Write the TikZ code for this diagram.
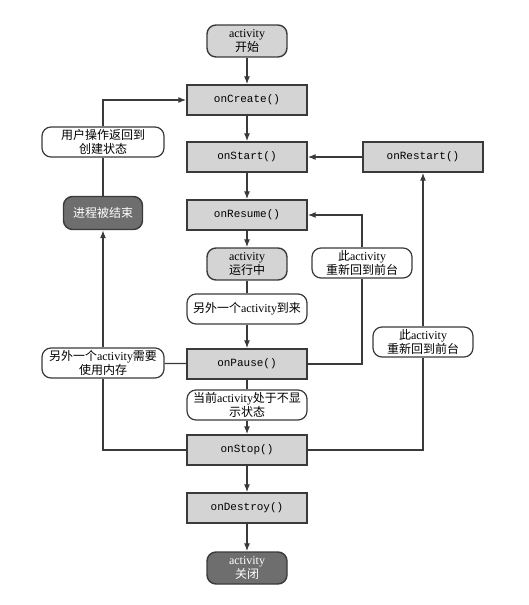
\documentclass[tikz,border=0pt]{standalone}
\usepackage{fontspec}
\setmainfont{Liberation Serif}
\setmonofont{Liberation Mono}
\newfontfamily\zh{Noto Sans CJK SC}
\usetikzlibrary{positioning, arrows.meta}
\definecolor{boxgray}{HTML}{D4D4D4}
\definecolor{darkbox}{HTML}{6E6E6E}
\definecolor{edgegray}{HTML}{3A3A3A}

\begin{document}
\begin{tikzpicture}[x=1pt,y=-1pt,
  method/.style={rectangle,draw=edgegray,line width=1.4pt,fill=boxgray,minimum width=120pt,minimum height=30pt,inner sep=1pt,font=\ttfamily\fontsize{11}{13}\selectfont},
  state/.style={rectangle,rounded corners=9pt,draw=edgegray,line width=1.4pt,fill=boxgray,minimum width=80pt,minimum height=32pt,inner sep=1pt,align=center,font=\fontsize{12}{14}\selectfont},
  ended/.style={state,fill=darkbox,text=white},
  event/.style={rectangle,rounded corners=9pt,draw=edgegray,line width=1.2pt,fill=white,minimum height=30pt,inner sep=1pt,align=center,font=\fontsize{12}{14}\selectfont},
  wire/.style={edgegray,line width=1.2pt},
  flow/.style={wire,-{Latex[length=8pt,width=6pt]}},
  node distance=58pt, on grid]
\useasboundingbox (0,0) rectangle (528,605);
\node (begin) [state] at (247,41) {activity\\{\zh 开始}};
\node (create) [method, below=59pt of begin] {onCreate()};
\node (start) [method, below=57pt of create] {onStart()};
\node (resume) [method, below=of start] {onResume()};
\node (running) [state, below=49pt of resume] {activity\\{\zh 运行中}};
\node (other) [event, minimum width=120pt, below=45pt of running] {{\zh 另外一个}activity{\zh 到来}};
\node (pause) [method, below=55pt of other] {onPause()};
\node (hidden) [event, minimum width=120pt, below=41pt of pause] {{\zh 当前}activity{\zh 处于不显}\\{\zh 示状态}};
\node (stop) [method, below=45pt of hidden] {onStop()};
\node (destroy) [method, below=of stop] {onDestroy()};
\node (close) [ended, below=60pt of destroy] {activity\\{\zh 关闭}};
\node (restart) [method, right=176pt of start] {onRestart()};
\node (back1) [event, minimum width=100pt] at (362,263) {{\zh 此}activity\\{\zh 重新回到前台}};
\node (back2) [event, minimum width=100pt] at (423,342) {{\zh 此}activity\\{\zh 重新回到前台}};
\node (killed) [ended, minimum width=79pt, minimum height=33pt] at (103,213) {{\zh 进程被结束}};
\node (memory) [event, minimum width=122pt] at (103,363) {{\zh 另外一个}activity{\zh 需要}\\{\zh 使用内存}};
\node (recreate) [event, minimum width=122pt] at (103,142) {{\zh 用户操作返回到}\\{\zh 创建状态}};
  \begin{scope}
    \draw [flow] (begin) -- (create);
    \draw [flow] (create) -- (start);
    \draw [flow] (start) -- (resume);
    \draw [flow] (resume) -- (running);
    \draw [wire] (running) -- (other);
    \draw [flow] (other) -- (pause);
    \draw [wire] (pause) -- (hidden);
    \draw [flow] (hidden) -- (stop);
    \draw [flow] (stop) -- (destroy);
    \draw [flow] (destroy) -- (close);
    \draw [flow] (restart) -- (start);
    \draw [wire] (pause.east) -| (back1.south);
    \draw [flow] (back1.north) |- (resume.east);
    \draw [wire] (stop.east) -| (back2.south);
    \draw [flow] (back2.north) -- (back2.north |- restart.south);
    \draw [wire] (pause) -- (memory);
    \draw [wire] (stop.west) -| (memory.south);
    \draw [flow] (memory) -- (killed);
    \draw [wire] (killed) -- (recreate);
    \draw [flow] (recreate.north) |- (create.west);
  \end{scope}
\end{tikzpicture}
\end{document}
